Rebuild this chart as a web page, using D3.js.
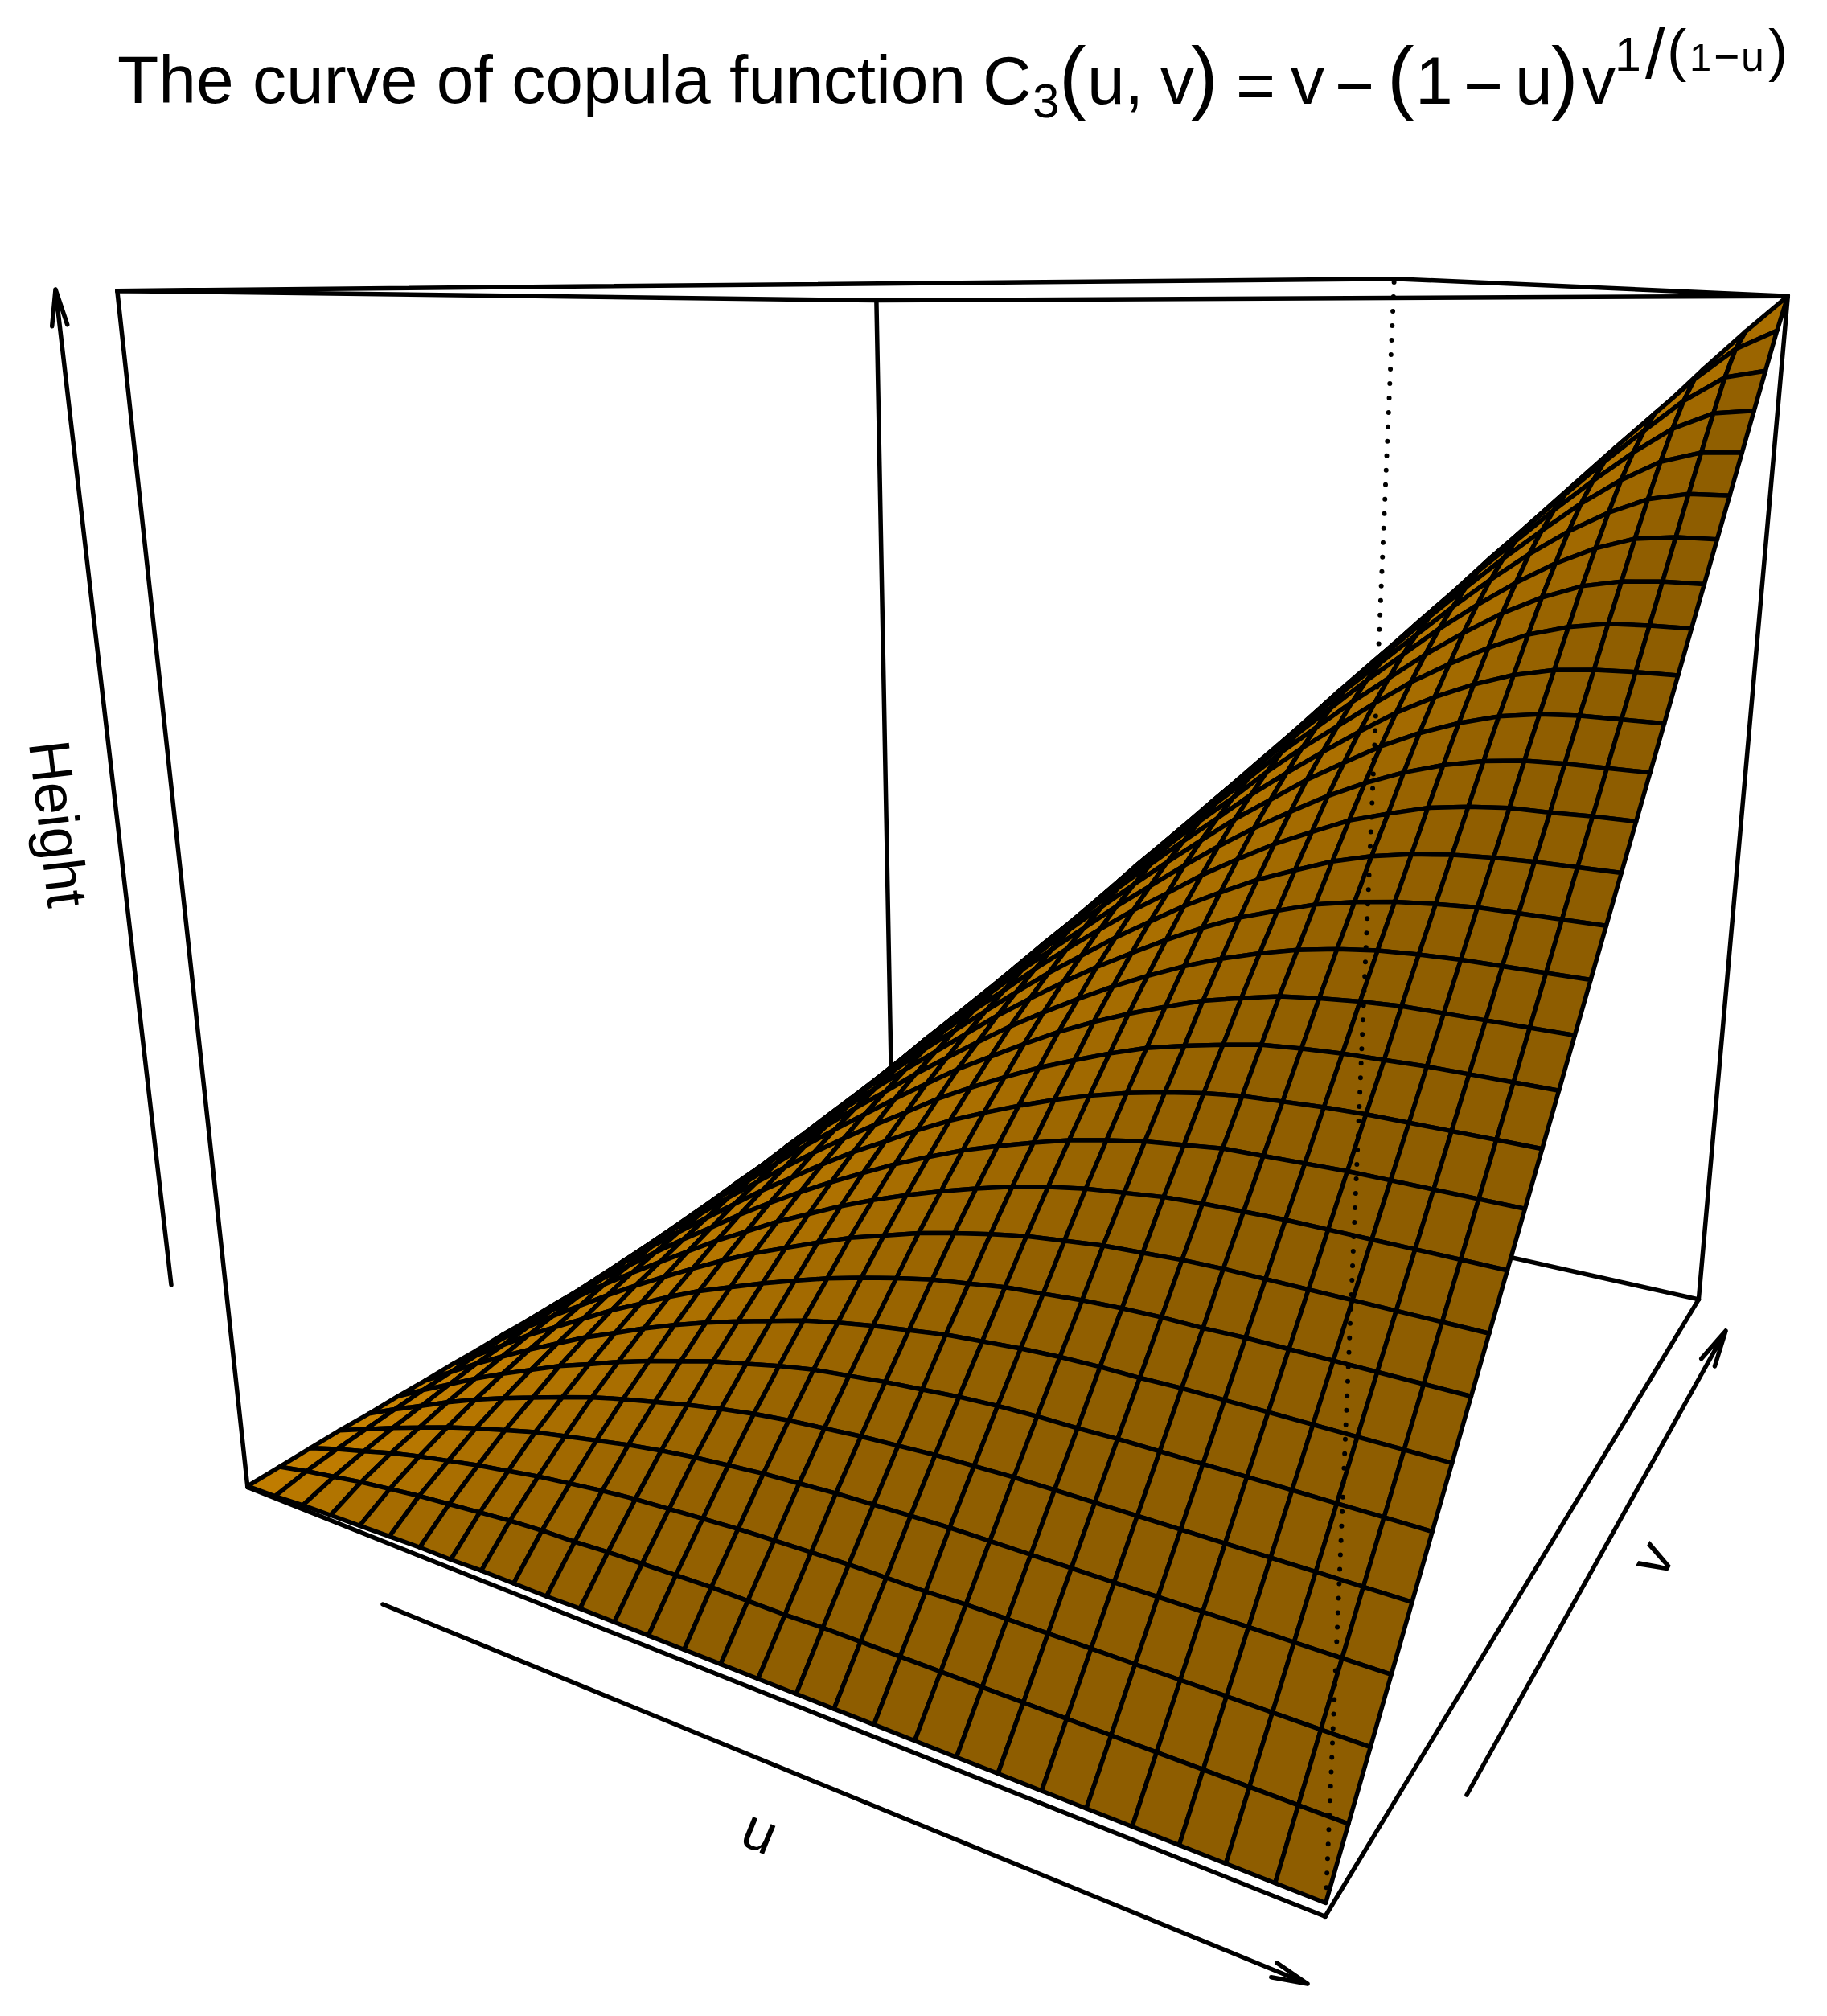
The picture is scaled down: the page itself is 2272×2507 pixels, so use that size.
<!DOCTYPE html>
<html lang="en">
<head>
  <meta charset="UTF-8">
  <title>Copula surface</title>
  <script src="https://d3js.org/d3.v7.min.js"></script>
  <style>
    body { margin: 0; background: #fff; }
    text { font-family: "Liberation Sans", Arial, sans-serif; fill: #000; }
  </style>
</head>
<body>
  <svg width="2272" height="2507"></svg>

  <script>
  // grid: 30 lines each way
  const uValues = [.010,.044,.078,.111,.145,.179,.213,.247,.280,.314,.348,.382,.416,.449,.483,.517,.551,.585,.618,.652,.686,.720,.753,.787,.821,.855,.889,.922,.956,.990];
  const vValues = [.010,.044,.078,.111,.145,.179,.213,.247,.280,.314,.348,.382,.416,.449,.483,.517,.551,.585,.618,.652,.686,.720,.753,.787,.821,.855,.889,.922,.956,.990];
  const heightRange = [0, .986];

  // heights, one row per u line, one entry per v line.
  // estimates worked out by hand from the function in the title, to 3 places
  const heights = [
    [.001,.002,.003,.004,.004,.005,.005,.006,.006,.007,.007,.008,.008,.008,.008,.009,.009,.009,.009,.009,.009,.010,.010,.010,.010,.010,.010,.010,.010,.010],
    [.002,.008,.012,.015,.018,.021,.023,.025,.027,.029,.031,.032,.034,.035,.036,.037,.038,.039,.040,.041,.041,.042,.042,.043,.043,.043,.044,.044,.044,.044],
    [.004,.013,.020,.026,.031,.036,.041,.044,.048,.051,.054,.057,.060,.062,.064,.066,.068,.069,.071,.072,.073,.074,.075,.076,.076,.077,.077,.077,.078,.078],
    [.005,.018,.028,.036,.044,.051,.057,.063,.068,.073,.077,.081,.085,.088,.091,.094,.097,.099,.101,.103,.105,.106,.107,.108,.109,.110,.111,.111,.111,.112],
    [.006,.022,.035,.046,.056,.065,.073,.080,.087,.094,.099,.105,.110,.114,.118,.122,.125,.128,.131,.134,.136,.138,.140,.141,.142,.143,.144,.145,.145,.145],
    [.007,.026,.041,.055,.067,.078,.088,.097,.106,.114,.121,.128,.134,.140,.145,.149,.154,.158,.161,.164,.167,.170,.172,.174,.175,.177,.178,.178,.179,.179],
    [.008,.029,.047,.063,.077,.091,.103,.114,.124,.133,.142,.150,.158,.164,.171,.177,.182,.187,.191,.195,.198,.201,.204,.206,.208,.210,.211,.212,.213,.213],
    [.008,.032,.052,.071,.087,.102,.116,.129,.141,.152,.162,.172,.181,.189,.196,.203,.209,.215,.220,.225,.229,.233,.236,.239,.241,.243,.245,.246,.246,.247],
    [.009,.035,.057,.077,.096,.113,.129,.144,.157,.170,.182,.193,.203,.213,.221,.229,.237,.243,.249,.255,.260,.264,.268,.271,.274,.276,.278,.279,.280,.280],
    [.009,.037,.061,.083,.104,.123,.141,.158,.173,.187,.201,.213,.225,.236,.246,.255,.263,.271,.278,.284,.290,.295,.300,.303,.307,.309,.311,.313,.314,.314],
    [.009,.038,.065,.089,.111,.132,.152,.170,.188,.204,.219,.233,.246,.258,.269,.280,.290,.298,.306,.314,.320,.326,.331,.335,.339,.342,.345,.346,.347,.348],
    [.010,.040,.068,.094,.118,.141,.162,.182,.201,.219,.236,.252,.266,.280,.293,.304,.315,.325,.334,.342,.350,.357,.362,.367,.372,.375,.378,.380,.381,.382],
    [.010,.041,.070,.098,.124,.148,.171,.193,.214,.234,.252,.269,.285,.301,.315,.328,.340,.351,.362,.371,.379,.387,.393,.399,.404,.408,.411,.413,.415,.416],
    [.010,.042,.072,.101,.129,.155,.180,.203,.226,.247,.267,.286,.304,.321,.336,.351,.364,.377,.388,.399,.408,.417,.424,.431,.436,.441,.444,.447,.449,.449],
    [.010,.043,.074,.104,.133,.161,.187,.212,.236,.259,.281,.302,.321,.339,.357,.373,.388,.402,.414,.426,.437,.446,.455,.462,.468,.473,.477,.480,.482,.483],
    [.010,.043,.075,.106,.136,.165,.193,.220,.246,.270,.294,.316,.337,.357,.376,.394,.410,.426,.440,.453,.465,.475,.485,.493,.500,.506,.510,.514,.516,.517],
    [.010,.043,.076,.108,.139,.169,.198,.227,.254,.280,.305,.329,.352,.374,.394,.414,.432,.449,.464,.479,.492,.504,.514,.523,.531,.538,.543,.547,.550,.551],
    [.010,.044,.077,.109,.141,.172,.203,.232,.261,.289,.315,.341,.365,.389,.411,.432,.452,.470,.488,.504,.518,.531,.543,.554,.563,.570,.576,.580,.583,.585],
    [.010,.044,.077,.110,.143,.175,.206,.237,.267,.296,.324,.351,.377,.402,.426,.449,.471,.491,.510,.528,.544,.559,.572,.583,.593,.602,.609,.614,.617,.618],
    [.010,.044,.077,.111,.144,.177,.209,.240,.271,.302,.331,.360,.388,.414,.440,.465,.488,.510,.531,.550,.568,.585,.599,.612,.624,.633,.641,.647,.650,.652],
    [.010,.044,.078,.111,.145,.178,.211,.243,.275,.306,.337,.367,.396,.425,.452,.479,.504,.528,.550,.572,.591,.609,.626,.641,.653,.664,.673,.680,.684,.686],
    [.010,.044,.078,.111,.145,.178,.212,.245,.277,.310,.341,.373,.403,.433,.462,.490,.517,.543,.568,.591,.613,.633,.651,.668,.682,.695,.705,.712,.717,.720],
    [.010,.044,.078,.111,.145,.179,.212,.246,.279,.312,.345,.377,.409,.440,.470,.500,.529,.557,.583,.609,.633,.655,.675,.694,.710,.724,.736,.745,.751,.753],
    [.010,.044,.078,.111,.145,.179,.213,.246,.280,.313,.346,.379,.412,.444,.476,.507,.538,.567,.596,.624,.650,.674,.697,.718,.737,.753,.766,.777,.784,.787],
    [.010,.044,.078,.111,.145,.179,.213,.247,.280,.314,.347,.381,.414,.447,.480,.512,.544,.576,.606,.636,.664,.691,.717,.740,.762,.780,.796,.808,.817,.821],
    [.010,.044,.078,.111,.145,.179,.213,.247,.280,.314,.348,.382,.415,.449,.482,.515,.548,.581,.613,.645,.675,.705,.733,.759,.784,.806,.824,.839,.850,.855],
    [.010,.044,.078,.111,.145,.179,.213,.247,.280,.314,.348,.382,.416,.449,.483,.517,.550,.584,.617,.650,.682,.714,.745,.774,.802,.828,.850,.868,.882,.888],
    [.010,.044,.078,.111,.145,.179,.213,.247,.280,.314,.348,.382,.416,.449,.483,.517,.551,.584,.618,.652,.685,.719,.751,.784,.815,.845,.872,.895,.913,.922],
    [.010,.044,.078,.111,.145,.179,.213,.247,.280,.314,.348,.382,.416,.449,.483,.517,.551,.585,.618,.652,.686,.720,.753,.787,.821,.854,.886,.916,.940,.955],
    [.010,.044,.078,.111,.145,.179,.213,.247,.280,.314,.348,.382,.416,.449,.483,.517,.551,.585,.618,.652,.686,.720,.753,.787,.821,.855,.889,.922,.956,.986]
  ];

  const xScale = d3.scaleLinear().domain([uValues[0], uValues[29]]).range([0, 1]);
  const yScale = d3.scaleLinear().domain([vValues[0], vValues[29]]).range([0, 1]);
  const zScale = d3.scaleLinear().domain(heightRange).range([0, 1]);

  // where the box corners land on the page: [x, y, z, px, py], used to fit the camera.
  // the far floor corner is hidden, it sits where the floor edges meet
  const boxAnchors = [
    [0, 0, 0, 308, 1850], [1, 0, 0, 1649, 2383], [1, 1, 0, 2112, 1616], [0, 1, 0, 1109, 1391],
    [0, 0, 1, 146, 361], [1, 0, 1, 1732, 347], [1, 1, 1, 2224, 368], [0, 1, 1, 1090, 374]
  ];

  function solve(a, b) {
    const n = b.length;
    for (let i = 0; i < n; i++) {
      let p = i;
      for (let r = i + 1; r < n; r++) if (Math.abs(a[r][i]) > Math.abs(a[p][i])) p = r;
      [a[i], a[p]] = [a[p], a[i]];
      [b[i], b[p]] = [b[p], b[i]];
      for (let r = i + 1; r < n; r++) {
        const f = a[r][i] / a[i][i];
        for (let c = i; c < n; c++) a[r][c] -= f * a[i][c];
        b[r] -= f * b[i];
      }
    }
    const out = new Array(n).fill(0);
    for (let i = n - 1; i >= 0; i--) {
      let s = b[i];
      for (let c = i + 1; c < n; c++) s -= a[i][c] * out[c];
      out[i] = s / a[i][i];
    }
    return out;
  }

  // least squares projective camera through the 8 corners
  function fitCamera(anchors) {
    const ata = d3.range(11).map(() => new Array(11).fill(0));
    const atb = new Array(11).fill(0);
    function addRow(row, rhs) {
      for (let i = 0; i < 11; i++) {
        atb[i] += row[i] * rhs;
        for (let j = 0; j < 11; j++) ata[i][j] += row[i] * row[j];
      }
    }
    anchors.forEach(([x, y, z, px, py]) => {
      const sx = px / 1000, sy = py / 1000;
      addRow([x, y, z, 1, 0, 0, 0, 0, -sx * x, -sx * y, -sx * z], sx);
      addRow([0, 0, 0, 0, x, y, z, 1, -sy * x, -sy * y, -sy * z], sy);
    });
    return solve(ata, atb);
  }

  const cam = fitCamera(boxAnchors);

  function projectBox(x, y, z) {
    const w = cam[8] * x + cam[9] * y + cam[10] * z + 1;
    return [
      1000 * (cam[0] * x + cam[1] * y + cam[2] * z + cam[3]) / w,
      1000 * (cam[4] * x + cam[5] * y + cam[6] * z + cam[7]) / w
    ];
  }

  const svg = d3.select("svg");
  svg.append("rect").attr("width", 2272).attr("height", 2507).attr("fill", "#fff");

  const lineWidth = 5.5;
  const polyline = d3.line();

  // box
  const boxEdges = [
    [[0,0,0],[1,0,0]], [[1,0,0],[1,1,0]], [[1,1,0],[0,1,0]], [[0,1,0],[0,0,0]],
    [[0,0,1],[1,0,1]], [[1,0,1],[1,1,1]], [[1,1,1],[0,1,1]], [[0,1,1],[0,0,1]],
    [[0,0,0],[0,0,1]], [[1,1,0],[1,1,1]], [[0,1,0],[0,1,1]]
  ];

  svg.append("g").selectAll("path")
    .data(boxEdges)
    .join("path")
    .attr("d", e => polyline(e.map(p => projectBox(...p))))
    .attr("fill", "none")
    .attr("stroke", "#000")
    .attr("stroke-width", lineWidth)
    .attr("stroke-linecap", "round");

  // facets, far to near: the near corner is high u, low v
  const lightDir = [-.378, .762, .527];
  const shadeColor = d3.scaleLinear()
    .domain([-.166, .64])
    .range(["rgb(142,93,0)", "rgb(203,132,0)"]);

  const facets = [];
  for (let i = 0; i < uValues.length - 1; i++) {
    for (let j = vValues.length - 2; j >= 0; j--) {
      const corners = [[i, j], [i + 1, j], [i + 1, j + 1], [i, j + 1]]
        .map(([a, b]) => [xScale(uValues[a]), yScale(vValues[b]), zScale(heights[a][b])]);
      const d1 = d3.range(3).map(k => corners[2][k] - corners[0][k]);
      const d2 = d3.range(3).map(k => corners[3][k] - corners[1][k]);
      const n = [
        d1[1] * d2[2] - d1[2] * d2[1],
        d1[2] * d2[0] - d1[0] * d2[2],
        d1[0] * d2[1] - d1[1] * d2[0]
      ];
      const len = Math.hypot(...n);
      facets.push({ corners, dot: d3.sum(n, (c, k) => c * lightDir[k]) / len });
    }
  }

  svg.append("g").selectAll("path")
    .data(facets)
    .join("path")
    .attr("d", f => polyline(f.corners.map(p => projectBox(...p))) + "Z")
    .attr("fill", f => shadeColor(f.dot))
    .attr("stroke", "#000")
    .attr("stroke-width", lineWidth)
    .attr("stroke-linejoin", "round");

  // near vertical edge goes over the surface, dotted
  svg.append("path")
    .attr("d", polyline([projectBox(1, 0, 0), projectBox(1, 0, 1)]))
    .attr("fill", "none")
    .attr("stroke", "#000")
    .attr("stroke-width", 6)
    .attr("stroke-linecap", "round")
    .attr("stroke-dasharray", "0 18");

  // axis arrows
  const axisArrows = [
    { from: [476, 1995], to: [1626, 2467] },
    { from: [1824, 2232], to: [2146, 1655] },
    { from: [213, 1598], to: [69, 360] }
  ];

  function arrowPath(a) {
    const p = d3.path();
    const ang = Math.atan2(a.to[1] - a.from[1], a.to[0] - a.from[0]);
    p.moveTo(...a.from);
    p.lineTo(...a.to);
    [-1, 1].forEach(s => {
      const t = ang + Math.PI + s * 12 * Math.PI / 180;
      p.moveTo(...a.to);
      p.lineTo(a.to[0] + 46 * Math.cos(t), a.to[1] + 46 * Math.sin(t));
    });
    return p.toString();
  }

  svg.append("g").selectAll("path")
    .data(axisArrows)
    .join("path")
    .attr("d", arrowPath)
    .attr("fill", "none")
    .attr("stroke", "#000")
    .attr("stroke-width", lineWidth)
    .attr("stroke-linecap", "round");

  // axis labels
  const axisLabels = [
    { text: "u", x: 936, y: 2300, rot: 22.3 },
    { text: "v", x: 2076, y: 1950, rot: -60.8 },
    { text: "Height", x: 48, y: 1027, rot: 83.3 }
  ];

  svg.append("g").selectAll("text")
    .data(axisLabels)
    .join("text")
    .attr("transform", d => `translate(${d.x},${d.y}) rotate(${d.rot})`)
    .attr("text-anchor", "middle")
    .attr("font-size", 72)
    .text(d => d.text);

  // title is set piece by piece like the plotmath original
  const titleParts = [
    { t: "The curve of copula function", x: 146, y: 128, s: 84 },
    { t: "C", x: 1222, y: 129, s: 84 },
    { t: "3", x: 1284, y: 146, s: 60 },
    { t: "(", x: 1317, y: 129, s: 101 },
    { t: "u,", x: 1352, y: 129, s: 84 },
    { t: "v", x: 1443, y: 129, s: 84 },
    { t: ")", x: 1481, y: 129, s: 101 },
    { t: "=", x: 1537, y: 135, s: 84 },
    { t: "v", x: 1605, y: 129, s: 84 },
    { t: "\u2212", x: 1660, y: 136, s: 84 },
    { t: "(", x: 1725, y: 129, s: 101 },
    { t: "1", x: 1760, y: 129, s: 84 },
    { t: "\u2212", x: 1820, y: 136, s: 84 },
    { t: "u", x: 1884, y: 129, s: 84 },
    { t: ")", x: 1929, y: 129, s: 101 },
    { t: "v", x: 1967, y: 129, s: 84 },
    { t: "1", x: 2008, y: 88, s: 59 },
    { t: "/", x: 2046, y: 97, s: 88 },
    { t: "(", x: 2073, y: 87, s: 73 },
    { t: "1", x: 2101, y: 88, s: 49 },
    { t: "\u2212", x: 2131, y: 89, s: 55 },
    { t: "u", x: 2165, y: 88, s: 52 },
    { t: ")", x: 2199, y: 87, s: 73 }
  ];

  svg.append("g").selectAll("text")
    .data(titleParts)
    .join("text")
    .attr("x", d => d.x)
    .attr("y", d => d.y)
    .attr("font-size", d => d.s)
    .text(d => d.t);
  </script>
</body>
</html>
